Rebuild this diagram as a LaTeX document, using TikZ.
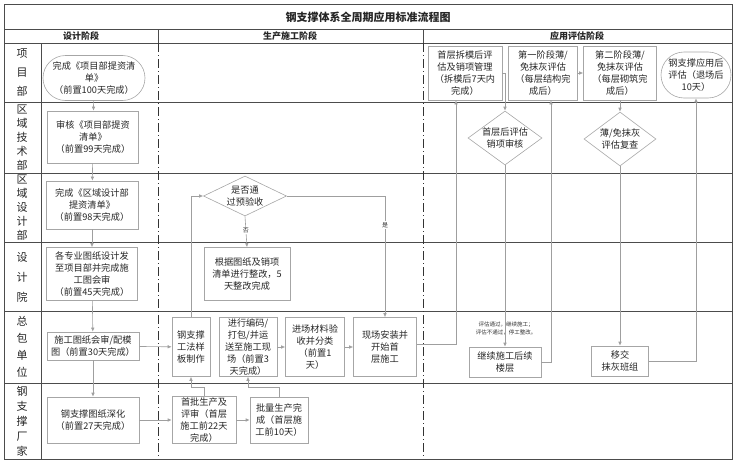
\documentclass[tikz,border=0pt]{standalone}
\usepackage{fontspec}
\setmainfont{Noto Sans CJK SC}
\usetikzlibrary{arrows.meta,shapes.geometric,shapes.misc}
\newcommand\bt{\fontsize{9.2}{12}\selectfont}
\begin{document}
\begin{tikzpicture}[x=1pt,y=-1pt,
  line/.style={draw=gray!75,line width=0.6pt},
  arr/.style={line,-{Latex[length=4pt,width=3.5pt]},shorten >=0pt},
  box/.style={draw=gray!70,line width=0.6pt,align=center,font=\bt,inner sep=1pt,text=black!85},
  stad/.style={box,rounded rectangle},
  dia/.style={draw=gray!70,line width=0.6pt,diamond,inner sep=0pt},
  lane/.style={align=center,text=black!85},
  phase/.style={font=\fontsize{9}{11}\selectfont\bfseries,text=black!85},
  sep/.style={draw=black!80,line width=0.9pt,dash pattern=on 9pt off 3pt on 1pt off 3pt}]
\useasboundingbox (0,0) rectangle (735,463);
% frame
\draw[draw=black!70,line width=0.8pt] (4,4) rectangle (732,459);
\draw[black!70,line width=0.6pt] (4,29) -- (732,29) (4,43) -- (732,43);
\foreach \y in {102,173,242,311,383} \draw[black!70,line width=0.6pt] (4,\y) -- (732,\y);
\draw[black!70,line width=0.6pt] (41,43) -- (41,459);
\draw[black!70,line width=0.6pt] (158,29) -- (158,43) (423,29) -- (423,43);
\draw[sep] (158,43) -- (158,459);
\draw[sep] (423,43) -- (423,459);
\node[font=\fontsize{11}{13}\selectfont\bfseries,text=black!85] (title) at (368,17) {钢支撑体系全周期应用标准流程图};
\node[phase] (p1) at (81,36) {设计阶段};
\node[phase] (p2) at (290,36) {生产施工阶段};
\node[phase] (p3) at (577,36) {应用评估阶段};
% lanes
\node[lane,font=\fontsize{11}{19}\selectfont] (l1) at (22,73) {项\\目\\部};
\node[lane,font=\fontsize{11}{14}\selectfont] (l2) at (22,138) {区\\域\\技\\术\\部};
\node[lane,font=\fontsize{11}{14}\selectfont] (l3) at (22,208) {区\\域\\设\\计\\部};
\node[lane,font=\fontsize{11}{20}\selectfont] (l4) at (22,277) {设\\计\\院};
\node[lane,font=\fontsize{11}{17}\selectfont] (l5) at (22,347) {总\\包\\单\\位};
\node[lane,font=\fontsize{11}{15}\selectfont] (l6) at (22,421) {钢\\支\\撑\\厂\\家};
% design
\node[stad,minimum width=104,minimum height=45] (a1) at (94,78) {完成《项目部提资清\\单》\\（前置100天完成）};
\node[box,minimum width=91,minimum height=52] (a2) at (93,137) {审核《项目部提资\\清单》\\（前置99天完成）};
\node[box,minimum width=92,minimum height=48] (a3) at (92,205) {完成《区域设计部\\提资清单》\\（前置98天完成）};
\node[box,minimum width=91,minimum height=53] (a4) at (92,274) {各专业图纸设计发\\至项目部并完成施\\工图会审\\（前置45天完成）};
\node[box,minimum width=92,minimum height=28] (a5) at (93,346) {施工图纸会审/配模\\图（前置30天完成）};
\node[box,minimum width=92,minimum height=46] (a6) at (93,420) {钢支撑图纸深化\\（前置27天完成）};
% production
\node[dia,minimum width=83,minimum height=40] (d1) at (245,196) {};
\node[font=\bt,align=center,text=black!85] (d1t) at (d1) {是否通\\过预验收};
\node[box,minimum width=86,minimum height=53] (b1) at (247,274) {根据图纸及销项\\清单进行整改，5\\天整改完成};
\node[box,minimum width=38,minimum height=59] (c1) at (191,347) {钢支撑\\工法样\\板制作};
\node[box,minimum width=58,minimum height=59] (c2) at (248,347) {进行编码/\\打包/并运\\送至施工现\\场（前置3\\天完成）};
\node[box,minimum width=59,minimum height=59] (c3) at (315,347) {进场材料验\\收并分类\\（前置1\\天）};
\node[box,minimum width=63,minimum height=59] (c4) at (385,347) {现场安装并\\开始首\\层施工};
\node[box,minimum width=64,minimum height=47] (e1) at (204,420) {首批生产及\\评审（首层\\施工前22天\\完成）};
\node[box,minimum width=58,minimum height=46] (e2) at (279,420) {批量生产完\\成（首层施\\工前10天）};
% application
\node[box,minimum width=74,minimum height=54] (f1) at (465,73) {首层拆模后评\\估及销项管理\\（拆模后7天内\\完成）};
\node[box,minimum width=69,minimum height=54] (f2) at (543,73) {第一阶段薄/\\免抹灰评估\\（每层结构完\\成后）};
\node[box,minimum width=73,minimum height=54] (f3) at (620,73) {第二阶段薄/\\免抹灰评估\\（每层砌筑完\\成后）};
\node[stad,minimum width=72,minimum height=46] (f4) at (696,75) {钢支撑应用后\\评估（退场后\\10天）};
\node[dia,minimum width=74,minimum height=54] (g1) at (505,138) {};
\node[font=\bt,align=center,text=black!85] (g1t) at (g1) {首层后评估\\销项审核};
\node[dia,minimum width=72,minimum height=54] (g2) at (620,139) {};
\node[font=\bt,align=center,text=black!85] (g2t) at (g2) {薄/免抹灰\\评估复查};
\node[box,minimum width=72,minimum height=30] (h1) at (505,362) {继续施工后续\\楼层};
\node[box,minimum width=57,minimum height=30] (h2) at (620,361) {移交\\抹灰班组};
\node[font=\fontsize{5.5}{8}\selectfont,align=center,text=black!80] (note) at (506,328) {评估通过，继续施工；\\评估不通过，停工整改。};
% edges
\draw[arr] (a1) -- (a2);
\draw[arr] (a2) -- (a3);
\draw[arr] (a3) -- (a4);
\draw[arr] (a4) -- (a5);
\draw[arr] (a5) -- (a6);
\draw[arr] (a5) -- (c1);
\draw[arr] (a6) -- (e1);
\draw[arr] (e1) -- (e2);
\draw[arr] (e1.north) -- ++(0,-9) -| (c1.south);
\draw[arr] (e2.north) -- ++(0,-9) -| (c2.south);
\draw[arr] (c1.north) |- (d1.west);
\draw[arr] (d1.south) -- node[fill=white,inner sep=1pt,font=\fontsize{6}{7}\selectfont,text=black!80,pos=0.45] {否} (b1.north);
\draw[arr] (d1.east) -| node[pos=0.62,fill=white,inner sep=1pt,font=\fontsize{6}{7}\selectfont,text=black!80] {是} (c4.north);
\draw[arr] (c2) -- (c3);
\draw[arr] (c3) -- (c4);
\draw[arr] ([yshift=3]c4.east) -| ([xshift=-9]f1.south);
\draw[arr] (f1.east) -| (g1.north);
\draw[arr] (g1.south) -- (h1.north);
\draw[arr] (h1.east) -| ([xshift=8]f2.south);
\draw[arr] (f2) -- (f3);
\draw[arr] (f3.south) -- (g2.north);
\draw[arr] (g2.south) -- (h2.north);
\draw[arr] (h2.east) -| (f4.south);
\end{tikzpicture}
\end{document}
